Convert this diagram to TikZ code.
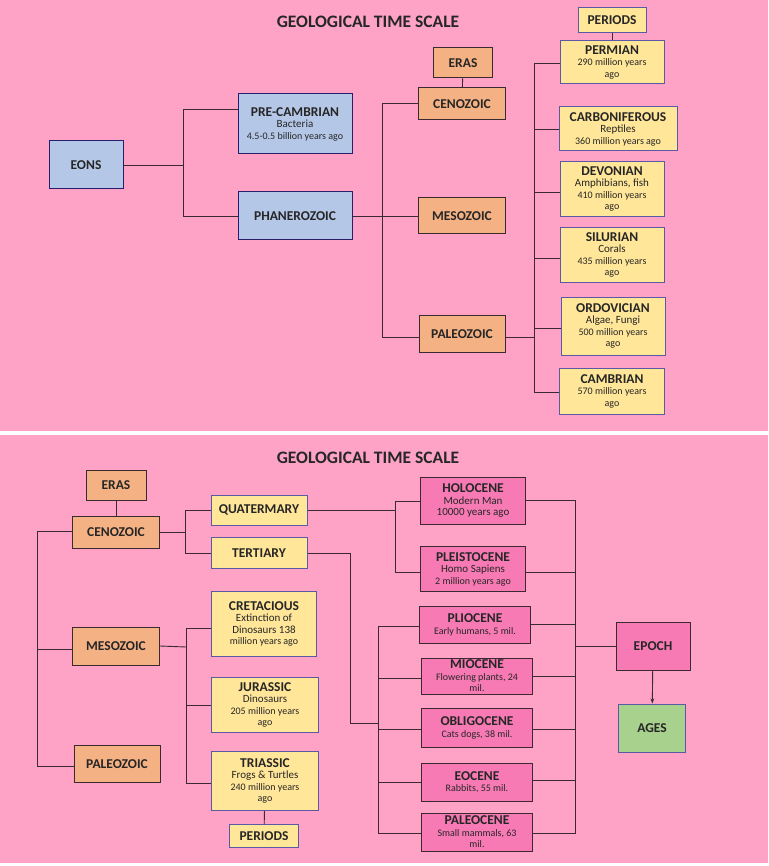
\documentclass[tikz,border=0pt]{standalone}
\usepackage{fontspec}
\setmainfont{Carlito}
\usetikzlibrary{arrows.meta}
\definecolor{bg}{HTML}{FFA3C6}
\definecolor{blu}{HTML}{B4C7E7}
\definecolor{ora}{HTML}{F4B183}
\definecolor{yel}{HTML}{FFE699}
\definecolor{pnk}{HTML}{F77AB4}
\definecolor{grn}{HTML}{A9D18E}
\definecolor{ln}{HTML}{3A2A30}
\tikzset{
 bx/.style={draw=#1,line width=1pt,inner sep=0pt,align=center,font=\fontsize{11}{11.5}\selectfont,text=black!85},
 blueb/.style={bx=ln!70!blue,fill=blu},
 orab/.style={bx=ln,fill=ora},
 yelb/.style={bx=blue!30!gray,fill=yel},
 pnkb/.style={bx=ln,fill=pnk},
 grnb/.style={bx=blue!30!gray,fill=grn},
 con/.style={draw=ln,line width=0.9pt},
 ttl/.style={font=\bfseries\fontsize{17.5}{19}\selectfont,text=black!85}
}
\newcommand{\bxx}[7]{\node[#6,minimum width=#4pt,minimum height=#5pt] (#1) at (#2,#3) {#7};}
\newcommand{\hb}[1]{{\bfseries\fontsize{13.5}{14}\selectfont #1}}
\newcommand{\sm}[1]{{\fontsize{10}{11}\selectfont #1}}
\begin{document}
\begin{tikzpicture}[x=1pt,y=-1pt]
\fill[bg] (0,0) rectangle (768,866);
\fill[white] (0,431) rectangle (768,435);
\fill[white] (0,863) rectangle (768,866);
\useasboundingbox (0,0) rectangle (768,866);
% ---------- top ----------
\node[ttl] (t1) at (368,22) {GEOLOGICAL TIME SCALE};
\bxx{eons}{86}{165}{74}{48}{blueb}{\hb{EONS}}
\bxx{pre}{295}{124}{114}{60}{blueb}{\hb{PRE-CAMBRIAN}\\Bacteria\\\sm{4.5-0.5 billion years ago}}
\bxx{pha}{295}{216}{114}{48}{blueb}{\hb{PHANEROZOIC}}
\bxx{eras1}{463}{63}{59}{30}{orab}{\hb{ERAS}}
\bxx{ceno1}{462}{104}{87}{32}{orab}{\hb{CENOZOIC}}
\bxx{meso1}{462}{216}{87}{36}{orab}{\hb{MESOZOIC}}
\bxx{pale1}{462}{334}{86}{37}{orab}{\hb{PALEOZOIC}}
\bxx{per1}{612}{20}{68}{25}{yelb}{\hb{PERIODS}}
\bxx{perm}{612}{62}{104}{43}{yelb}{\hb{PERMIAN}\\\sm{290 million years}\\\sm{ago}}
\bxx{carb}{618}{129}{118}{44}{yelb}{\hb{CARBONIFEROUS}\\Reptiles\\\sm{360 million years ago}}
\bxx{devo}{612}{189}{104}{55}{yelb}{\hb{DEVONIAN}\\Amphibians, fish\\\sm{410 million years}\\\sm{ago}}
\bxx{silu}{612}{255}{104}{55}{yelb}{\hb{SILURIAN}\\Corals\\\sm{435 million years}\\\sm{ago}}
\bxx{ordo}{613}{326}{104}{58}{yelb}{\hb{ORDOVICIAN}\\Algae, Fungi\\\sm{500 million years}\\\sm{ago}}
\bxx{camb}{612}{391}{105}{46}{yelb}{\hb{CAMBRIAN}\\\sm{570 million years}\\\sm{ago}}
\draw[con] (eons.east) -- (183,165);
\draw[con] (pre.west|-0,109) -- (183,109) -- (183,216) -- (pha.west);
\draw[con] (pha.east) -- (382,216);
\draw[con] (ceno1.west|-0,103) -- (382,103) -- (382,337) -- (pale1.west|-0,337);
\draw[con] (382,216) -- (meso1.west);
\draw[con] (eras1) -- (ceno1);
\draw[con] (per1) -- (perm);
\draw[con] (pale1.east|-0,337) -- (534,337);
\draw[con] (perm.west|-0,63) -- (534,63) -- (534,392) -- (camb.west|-0,392);
\foreach \n/\y in {carb/129,devo/192,silu/258,ordo/328} \draw[con] (534,\y) -- (\n.west|-0,\y);
% ---------- bottom ----------
\node[ttl] (t2) at (368,458) {GEOLOGICAL TIME SCALE};
\bxx{eras2}{116}{485}{60}{30}{orab}{\hb{ERAS}}
\bxx{ceno2}{116}{532}{87}{32}{orab}{\hb{CENOZOIC}}
\bxx{meso2}{116}{646}{87}{38}{orab}{\hb{MESOZOIC}}
\bxx{pale2}{117}{764}{86}{37}{orab}{\hb{PALEOZOIC}}
\bxx{quat}{259}{510}{96}{30}{yelb}{\hb{QUATERMARY}}
\bxx{tert}{259}{553}{96}{31}{yelb}{\hb{TERTIARY}}
\bxx{cret}{264}{624}{105}{65}{yelb}{\hb{CRETACIOUS}\\Extinction of\\Dinosaurs 138\\\sm{million years ago}}
\bxx{jura}{265}{705}{107}{55}{yelb}{\hb{JURASSIC}\\Dinosaurs\\\sm{205 million years}\\\sm{ago}}
\bxx{tria}{265}{781}{107}{59}{yelb}{\hb{TRIASSIC}\\Frogs \& Turtles\\\sm{240 million years}\\\sm{ago}}
\bxx{per2}{264}{836}{69}{23}{yelb}{\hb{PERIODS}}
\bxx{holo}{473}{501}{105}{47}{pnkb}{\hb{HOLOCENE}\\Modern Man\\10000 years ago}
\bxx{plei}{473}{569}{105}{45}{pnkb}{\hb{PLEISTOCENE}\\Homo Sapiens\\\sm{2 million years ago}}
\bxx{plio}{475}{625}{111}{37}{pnkb}{\hb{PLIOCENE}\\\sm{Early humans, 5 mil.}}
\bxx{mioc}{477}{676}{111}{36}{pnkb}{\hb{MIOCENE}\\\sm{Flowering plants, 24}\\\sm{mil.}}
\bxx{obli}{477}{728}{111}{39}{pnkb}{\hb{OBLIGOCENE}\\\sm{Cats dogs, 38 mil.}}
\bxx{eoce}{477}{782}{111}{38}{pnkb}{\hb{EOCENE}\\\sm{Rabbits, 55 mil.}}
\bxx{pale3}{477}{832}{111}{38}{pnkb}{\hb{PALEOCENE}\\\sm{Small mammals, 63}\\\sm{mil.}}
\bxx{epoch}{653}{646}{74}{48}{pnkb}{\hb{EPOCH}}
\bxx{ages}{652}{728}{67}{48}{grnb}{\hb{AGES}}
\draw[con] (eras2) -- (ceno2);
\draw[con] (ceno2.west|-0,531) -- (37,531) -- (37,766) -- (pale2.west|-0,766);
\draw[con] (37,649) -- (meso2.west|-0,649);
\draw[con] (ceno2.east) -- (185,532);
\draw[con] (quat.west) -- (185,510) -- (185,553) -- (tert.west);
\draw[con] (meso2.east) -- (186,647);
\draw[con] (cret.west|-0,628) -- (186,628) -- (186,783) -- (tria.west|-0,783);
\draw[con] (186,705) -- (jura.west);
\draw[con] (tria) -- (per2);
\draw[con] (quat.east) -- (395,510);
\draw[con] (holo.west) -- (395,501) -- (395,572) -- (plei.west|-0,572);
\draw[con] (tert.east) -- (350,553) -- (350,723) -- (378,723);
\draw[con] (plio.west|-0,626) -- (378,626) -- (378,833) -- (pale3.west|-0,833);
\foreach \n/\y in {mioc/678,obli/729,eoce/782} \draw[con] (378,\y) -- (\n.west|-0,\y);
\draw[con] (holo.east|-0,500) -- (575,500) -- (575,833) -- (pale3.east|-0,833);
\foreach \n/\y in {plei/572,plio/624,mioc/676,obli/729,eoce/780} \draw[con] (\n.east|-0,\y) -- (575,\y);
\draw[con] (epoch.west) -- (575,646);
\draw[con,-{Stealth[length=5pt]}] (epoch) -- (ages);
\end{tikzpicture}
\end{document}
